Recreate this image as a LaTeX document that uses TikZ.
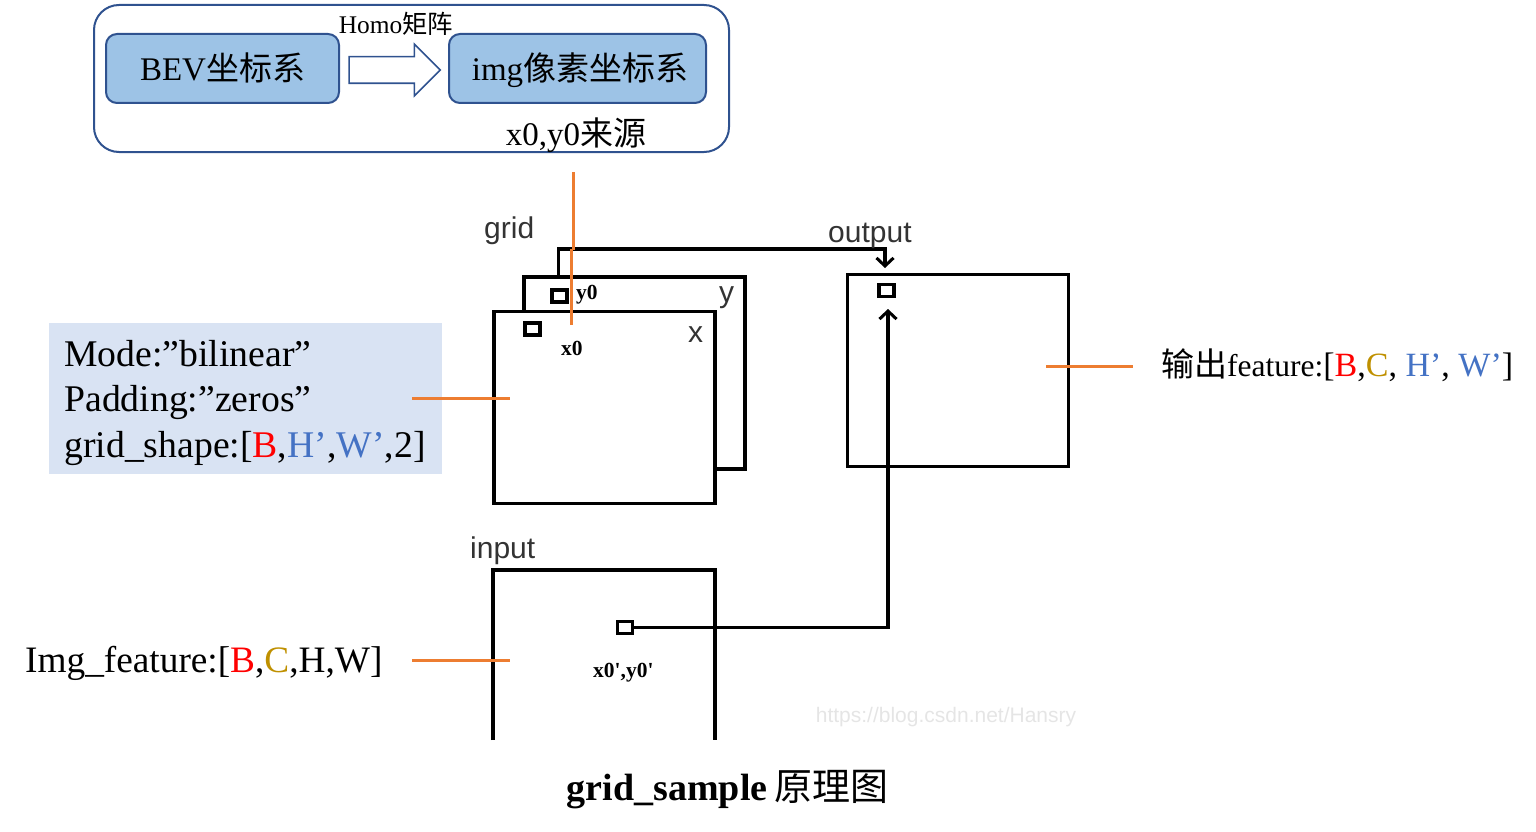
\documentclass[tikz,border=0pt]{standalone}
\usepackage{fontspec}
\setmainfont{Liberation Serif}
\newfontfamily\cjk{Noto Sans CJK SC}
\newfontfamily\sanslabel{Liberation Sans}
\usetikzlibrary{arrows.meta, shapes.arrows}
\definecolor{boxline}{HTML}{2F528F}
\definecolor{boxfill}{HTML}{9DC3E6}
\definecolor{panel}{HTML}{D9E3F3}
\definecolor{leader}{HTML}{ED7D31}
\definecolor{cgold}{HTML}{BF9000}
\definecolor{cblue}{HTML}{4472C4}
\newcommand{\zh}[1]{{\cjk #1}}
\newcommand{\fs}[1]{\fontsize{#1}{#1}\selectfont}

\begin{document}
\begin{tikzpicture}[x=1pt, y=-1pt,
    frame/.style={draw=boxline, line width=2pt, rounded corners=25pt, inner sep=0, minimum width=635pt, minimum height=147pt},
    sys/.style={draw=boxline, fill=boxfill, line width=2pt, rounded corners=11pt, inner sep=0, minimum height=69pt, text height=33pt, text depth=8pt, font=\fs{33}},
    sheet/.style={draw=black, fill=white, line width=3.6pt, inner sep=0, minimum width=221pt, minimum height=192pt},
    cell/.style={draw=black, fill=white, line width=3.2pt, inner sep=0, minimum width=15pt, minimum height=12pt},
    sans/.style={inner sep=0, anchor=base west, text=black!80, font=\sanslabel\fs{30}},
    tag/.style={inner sep=0, anchor=base west, font=\bfseries\fs{21.5}},
    note/.style={inner sep=0, anchor=base west, font=\fs{37.3}},
    flow/.style={draw=black, line width=3.2pt},
    tip/.style={-{Straight Barb[length=8pt, width=17pt, line width=3pt]}},
    lead/.style={draw=leader, line width=2.4pt}]

    \useasboundingbox (0,0) rectangle (1536,832);

    % top panel
    \node[frame] at (411.5,78.5) (homoframe) {};
    \node[sys, minimum width=233pt] at (222.5,68.5) (bev) {BEV\zh{坐标系}};
    \node[sys, minimum width=257pt] at (577.5,68.5) (img) {\hspace{5pt}img\zh{像素坐标系}};
    \node[draw=boxline, line width=1.6pt, fill=white, single arrow, single arrow head extend=12.5pt, minimum height=91pt, inner sep=0] at (388,70) (homoarrow) {\rule{0pt}{25pt}};
    \node[inner sep=0, font=\fs{25.4}] at (396,24) (homo) {Homo\zh{矩阵}};
    \node[inner sep=0, font=\fs{33}] at (576,135) (source) {x0,y0\zh{来源}};

    % grid sheets
    \node[sheet] at (634.5,373) (gridy) {};
    \coordinate (gridup) at (558.5,277);
    \coordinate (outtop) at (885,268);
    \draw[flow, tip] (gridup) |- (885,249) -- (outtop);
    \node[sheet] at (604.5,407.5) (gridx) {};
    \node[cell] at (559.5,296) (celly) {};
    \node[cell] at (532.5,329) (cellx) {};
    \node[sans] at (484,238) (gridlab) {grid};
    \node[sans] at (719,302) (ylab) {y};
    \node[sans] at (688,342) (xlab) {x};
    \node[tag] at (576,299) (y0lab) {y0};
    \node[tag] at (561,355) (x0lab) {x0};

    % output sheet
    \node[sheet] at (958,370.5) (out) {};
    \node[cell] at (886.5,290.5) (cellout) {};
    \node[sans] at (828,242) (outlab) {output};

    % input sheet, open at the bottom
    \coordinate (inleft) at (493,740);
    \coordinate (inright) at (715,740);
    \coordinate (intop) at (715,570);
    \draw[flow, line width=3.6pt] (inleft) |- (intop) -- (inright);
    \node[cell] at (625,627.5) (cellin) {};
    \node[sans] at (470,558) (inlab) {input};
    \node[tag] at (593,677) (inxy) {x0\textquotesingle,y0\textquotesingle};
    \coordinate (outlow) at (888,309);
    \draw[flow, tip] (cellin.east) -| (outlow);

    % left and right notes
    \node[fill=panel, inner sep=0, minimum width=393pt, minimum height=151pt] at (245.5,398.5) (modebox) {};
    \node[inner sep=0, align=left, font=\fs{37.7}, execute at begin node={\setlength{\baselineskip}{45.5pt}}] at (245,402.5) (mode) {Mode:”bilinear”\\Padding:”zeros”\\grid\_shape:[\textcolor{red}{B},\textcolor{cblue}{H’},\textcolor{cblue}{W’},2]};
    \node[note] at (25,672) (imgfeat) {Img\_feature:[\textcolor{red}{B},\textcolor{cgold}{C},H,W]};
    \node[note, font=\fs{34}] at (1161,376) (outfeat) {{\fs{33}\zh{输出}}{\fs{31.5}feature:}[\textcolor{red}{B},\textcolor{cgold}{C}, \textcolor{cblue}{H’}, \textcolor{cblue}{W’}]};

    % orange leaders
    \coordinate (srcup) at (573.5,172);
    \coordinate (srcmid) at (573.5,250);
    \coordinate (srcmid2) at (571.5,249);
    \coordinate (srcend) at (571.5,325);
    \draw[lead] (srcup) -- (srcmid);
    \draw[lead] (srcmid2) -- (srcend);
    \coordinate (modea) at (412,398.5);
    \coordinate (modeb) at (510,398.5);
    \draw[lead] (modea) -- (modeb);
    \coordinate (ina) at (412,660.5);
    \coordinate (inb) at (510,660.5);
    \draw[lead] (ina) -- (inb);
    \coordinate (outa) at (1046,366.5);
    \coordinate (outb) at (1133,366.5);
    \draw[lead] (outa) -- (outb);

    % watermark and caption
    \node[inner sep=0, text=black!10, font=\sanslabel\fs{21}] at (946,717) (mark) {https://blog.csdn.net/Hansry};
    \node[inner sep=0, anchor=base, font=\fs{38}] at (727.5,800) (caption) {\textbf{grid\_sample}\hspace{6.5pt}\zh{原理图}};
\end{tikzpicture}
\end{document}
